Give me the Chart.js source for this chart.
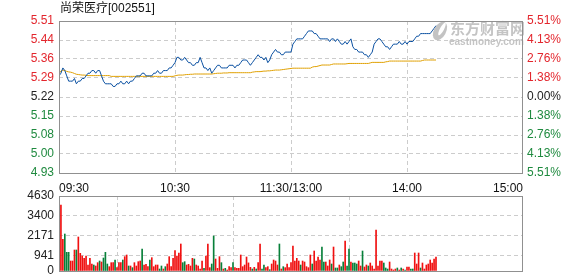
<!DOCTYPE html>
<html lang="zh">
<head>
<meta charset="UTF-8">
<title>尚荣医疗 分时</title>
<script src="https://cdn.jsdelivr.net/npm/chart.js"></script>
<style>
    html, body { margin: 0; padding: 0; background: #fff; overflow: hidden; }
    #wrap { position: relative; width: 578px; height: 276px; }
    #priceChart { position: absolute; left: 0; top: 0; }
    #volChart { position: absolute; left: 0; top: 186px; }
</style>
</head>
<body>
<div id="wrap">
    <canvas id="priceChart" width="578" height="194"></canvas>
    <canvas id="volChart" width="578" height="90"></canvas>
</div>
<script>
// ---- данные ----
const title = '尚荣医疗[002551]';
const prevClose = 5.22;

// ось времени: минуты от 09:30 (0..240)
const timeTicks = [0, 60, 120, 180, 240];
const timeLabels = ['09:30', '10:30', '11:30/13:00', '14:00', '15:00'];

// уровни сетки цены в % от закрытия и подписи (снизу вверх)
const pctLevels = [-5.51, -4.13, -2.76, -1.38, 0, 1.38, 2.76, 4.13, 5.51];
const priceLabels = ['4.93', '5.00', '5.08', '5.15', '5.22', '5.29', '5.36', '5.44', '5.51'];
const pctLabels = ['5.51%', '4.13%', '2.76%', '1.38%', '0.00%', '1.38%', '2.76%', '4.13%', '5.51%'];

// объём: сетка и подписи
const volTicks = [0, 941, 2171, 3400, 4630];
const volLabels = ['0', '941', '2171', '3400', '4630'];

// цена по минутам (0 = 09:30)
const prices = [
    5.30,5.31,5.33,5.32,5.30,5.28,5.28,5.28,5.29,5.27,
    5.28,5.28,5.29,5.29,5.30,5.31,5.31,5.32,5.32,5.31,
    5.32,5.32,5.30,5.28,5.27,5.27,5.27,5.27,5.26,5.26,
    5.27,5.27,5.28,5.27,5.27,5.28,5.27,5.28,5.28,5.29,
    5.30,5.30,5.30,5.31,5.31,5.30,5.30,5.30,5.30,5.31,
    5.31,5.32,5.31,5.31,5.32,5.32,5.32,5.33,5.33,5.34,
    5.35,5.37,5.37,5.36,5.36,5.37,5.36,5.35,5.35,5.34,
    5.34,5.35,5.35,5.37,5.35,5.33,5.33,5.32,5.33,5.31,
    5.32,5.33,5.34,5.34,5.33,5.33,5.33,5.33,5.34,5.34,
    5.34,5.33,5.34,5.34,5.35,5.36,5.36,5.36,5.35,5.34,
    5.35,5.36,5.37,5.38,5.37,5.37,5.36,5.37,5.35,5.36,
    5.38,5.39,5.40,5.39,5.39,5.38,5.38,5.39,5.39,5.39,
    5.39,5.42,5.43,5.44,5.44,5.44,5.44,5.45,5.46,5.47,
    5.47,5.47,5.46,5.46,5.45,5.44,5.44,5.44,5.44,5.44,
    5.43,5.44,5.44,5.43,5.44,5.43,5.42,5.42,5.43,5.42,
    5.43,5.44,5.41,5.40,5.40,5.39,5.39,5.39,5.38,5.38,
    5.37,5.38,5.39,5.42,5.43,5.44,5.44,5.43,5.42,5.41,
    5.41,5.40,5.41,5.42,5.42,5.42,5.43,5.42,5.42,5.43,
    5.42,5.43,5.43,5.43,5.44,5.45,5.45,5.46,5.46,5.46,
    5.46,5.46,5.46,5.47,5.48,5.49
];

// средняя цена по минутам
const avgPrices = [
    5.310,5.318,5.322,5.320,5.317,5.315,5.314,5.312,5.309,5.306,
    5.305,5.304,5.303,5.303,5.302,5.301,5.301,5.301,5.301,5.301,
    5.301,5.301,5.301,5.301,5.301,5.301,5.301,5.298,5.298,5.298,
    5.298,5.298,5.298,5.298,5.298,5.298,5.298,5.298,5.298,5.298,
    5.298,5.298,5.298,5.298,5.298,5.298,5.298,5.298,5.298,5.298,
    5.298,5.298,5.298,5.298,5.298,5.298,5.298,5.298,5.298,5.298,
    5.300,5.302,5.303,5.303,5.303,5.304,5.305,5.305,5.306,5.306,
    5.307,5.307,5.307,5.307,5.307,5.307,5.307,5.307,5.307,5.307,
    5.308,5.309,5.310,5.310,5.310,5.311,5.311,5.311,5.312,5.312,
    5.312,5.312,5.312,5.312,5.312,5.312,5.312,5.312,5.312,5.312,
    5.314,5.315,5.316,5.316,5.316,5.317,5.318,5.318,5.319,5.319,
    5.320,5.321,5.322,5.322,5.322,5.323,5.324,5.325,5.326,5.327,
    5.328,5.329,5.329,5.329,5.329,5.329,5.329,5.329,5.329,5.329,
    5.329,5.333,5.335,5.335,5.337,5.339,5.341,5.341,5.341,5.341,
    5.341,5.343,5.345,5.345,5.345,5.345,5.345,5.345,5.345,5.346,
    5.347,5.347,5.347,5.347,5.347,5.347,5.347,5.347,5.347,5.347,
    5.347,5.349,5.351,5.351,5.351,5.351,5.351,5.351,5.351,5.353,
    5.354,5.356,5.356,5.356,5.356,5.356,5.356,5.356,5.356,5.356,
    5.356,5.356,5.356,5.356,5.356,5.356,5.356,5.356,5.358,5.360,
    5.360,5.360,5.360,5.360,5.360,5.360
];

// объём по минутам, начиная с 1-й минуты
const volumes = [
    4074,1955,2284,1152,1152,617,617,1296,1296,2099,
    1090,926,782,926,370,782,432,370,309,514,
    617,556,802,1152,432,267,514,514,679,206,
    514,514,679,885,988,309,309,206,514,309,
    576,617,1358,370,411,267,679,823,267,370,
    370,123,309,123,267,432,885,267,782,1255,
    926,1111,1667,514,576,370,411,309,782,741,
    370,309,123,617,164,926,1667,206,432,2160,
    741,164,885,514,123,164,62,267,206,514,
    206,164,164,988,267,370,864,500,226,123,
    226,123,514,1667,123,370,206,267,82,432,
    679,617,370,1667,123,267,206,432,206,514,
    1543,617,782,617,370,617,556,267,206,988,
    432,1234,617,864,679,1481,556,556,309,679,
    432,1481,185,185,370,267,556,1852,309,1358,
    556,494,494,432,617,309,1234,247,370,309,
    494,309,123,2531,309,617,617,494,185,123,
    556,123,62,123,185,62,185,123,62,247,
    247,123,123,1111,432,1111,185,494,123,370,
    432,679,494,741,864
];

// r = рост, g = падение
const volDir = (
    'rrgggrrrgr' + 'rrrrrrrgrr' + 'grgggrrrgr' + 'rrgrrgrgrr' +
    'rrgrrrgrrr' + 'rggrgrrrrr' + 'rrrggrrrrg' + 'rrrrgrrrgg' +
    'rrrgrgrrrg' + 'rrrrrrrrrg' + 'rgrrggrrgr' + 'rrrgrgrrrr' +
    'rrrrgrrrrr' + 'grrrrggrrr' + 'grggrggrgg' + 'rgggrrgrrg' +
    'rrrrrrrggg' + 'rrrrgrgrgr' + 'rggrrrgrrr' + 'rrrrr'
).split('');

// ---- оформление ----
const FONT = '"Liberation Sans", "Noto Sans CJK SC", Arial, sans-serif';
Chart.defaults.font.family = FONT;
Chart.defaults.font.size = 12;

const LABEL_RED = '#e3262d';
const LABEL_GREEN = '#1f8a3f';
const LABEL_DARK = '#222';
const GRID = '#cccccc';
const FRAME = '#909090';

const priceTickVals = pctLevels.map(p => prevClose * (1 + p / 100));
const yMin = priceTickVals[0];
const yMax = priceTickVals[priceTickVals.length - 1];
const mid = pctLevels.indexOf(0);

function levelColor(i) {
    if (i === mid) return LABEL_DARK;
    return i > mid ? LABEL_RED : LABEL_GREEN;
}

// сетка без крайних линий (их рисует рамка)
function innerGrid(count) {
    return c => (c.index === 0 || c.index === count - 1) ? 'rgba(0,0,0,0)' : GRID;
}

// рамка вокруг области графика
const framePlugin = {
    id: 'frame',
    afterDraw(chart) {
        const a = chart.chartArea;
        const ctx = chart.ctx;
        ctx.save();
        ctx.strokeStyle = FRAME;
        ctx.lineWidth = 1;
        ctx.strokeRect(Math.round(a.left) + 0.5, Math.round(a.top) + 0.5,
            Math.round(a.right - a.left) - 1, Math.round(a.bottom - a.top));
        ctx.restore();
    }
};

// заголовок и водяной знак
const headerPlugin = {
    id: 'header',
    afterDatasetsDraw(chart) {
        const ctx = chart.ctx;
        const a = chart.chartArea;
        ctx.save();
        ctx.fillStyle = '#111';
        ctx.font = '12px ' + FONT;
        ctx.textBaseline = 'middle';
        ctx.textAlign = 'left';
        ctx.fillText(title, a.left + 1, 9);

        // логотип
        ctx.fillStyle = 'rgba(185,185,185,0.85)';
        ctx.beginPath();
        ctx.ellipse(440, 31, 6, 10, 0.5, 0, Math.PI * 2);
        ctx.fill();
        ctx.fillStyle = '#fff';
        ctx.beginPath();
        ctx.ellipse(442, 29, 2, 7, 0.5, 0, Math.PI * 2);
        ctx.fill();

        ctx.fillStyle = 'rgba(190,190,190,0.9)';
        ctx.font = 'bold 15px ' + FONT;
        ctx.fillText('东方财富网', 450, 30);
        ctx.font = 'bold 10px ' + FONT;
        ctx.fillText('eastmoney.com', 449, 42);
        ctx.restore();
    }
};

// ---- график цены ----
new Chart(document.getElementById('priceChart'), {
    type: 'line',
    data: {
        datasets: [
            {
                data: prices.map((p, i) => ({ x: i, y: p })),
                borderColor: '#0a50a1',
                borderWidth: 1,
                pointRadius: 0,
                tension: 0
            },
            {
                data: avgPrices.map((p, i) => ({ x: i, y: p })),
                borderColor: '#e0a000',
                borderWidth: 1,
                pointRadius: 0,
                tension: 0
            }
        ]
    },
    options: {
        responsive: false,
        animation: false,
        layout: { padding: { top: 21, left: 0, right: 0, bottom: 0 } },
        plugins: { legend: { display: false }, tooltip: { enabled: false } },
        scales: {
            x: {
                type: 'linear', min: 0, max: 240,
                afterBuildTicks: s => { s.ticks = timeTicks.map(v => ({ value: v })); },
                afterFit: s => { s.height = 21; s.paddingLeft = 0; s.paddingRight = 0; },
                grid: { color: innerGrid(timeTicks.length), drawTicks: false },
                border: { display: false, dash: [4, 3] },
                ticks: {
                    align: 'inner', padding: 8, color: '#111', autoSkip: false, maxRotation: 0,
                    callback: (v, i) => timeLabels[i]
                }
            },
            y: {
                position: 'left', min: yMin, max: yMax, bounds: 'data',
                afterBuildTicks: s => { s.ticks = priceTickVals.map(v => ({ value: v })); },
                afterFit: s => { s.width = 59; s.paddingTop = 0; s.paddingBottom = 0; },
                grid: { color: innerGrid(priceTickVals.length), drawTicks: false },
                border: { display: false, dash: [4, 3] },
                ticks: {
                    padding: 5, autoSkip: false,
                    color: c => levelColor(c.index),
                    callback: (v, i) => priceLabels[i]
                }
            },
            yr: {
                position: 'right', min: yMin, max: yMax, bounds: 'data',
                afterBuildTicks: s => { s.ticks = priceTickVals.map(v => ({ value: v })); },
                afterFit: s => { s.width = 55; s.paddingTop = 0; s.paddingBottom = 0; },
                grid: { display: false, drawTicks: false },
                border: { display: false },
                ticks: {
                    padding: 4, autoSkip: false,
                    color: c => levelColor(c.index),
                    callback: (v, i) => pctLabels[i]
                }
            }
        }
    },
    plugins: [framePlugin, headerPlugin]
});

// ---- график объёма ----
new Chart(document.getElementById('volChart'), {
    type: 'bar',
    data: {
        datasets: [{
            data: volumes.map((v, i) => ({ x: i + 1, y: v })),
            backgroundColor: volDir.map(d => d === 'r' ? '#f01010' : '#08803a'),
            barThickness: 1,
            grouped: false
        }]
    },
    options: {
        responsive: false,
        animation: false,
        layout: { padding: { top: 10, left: 0, right: 55, bottom: 0 } },
        plugins: { legend: { display: false }, tooltip: { enabled: false } },
        scales: {
            x: {
                type: 'linear', min: 0, max: 240, offset: false,
                afterBuildTicks: s => { s.ticks = timeTicks.map(v => ({ value: v })); },
                afterFit: s => { s.height = 5; s.paddingLeft = 0; s.paddingRight = 0; },
                grid: { color: innerGrid(timeTicks.length), drawTicks: false },
                border: { display: false, dash: [4, 3] },
                ticks: { display: false }
            },
            y: {
                min: 0, max: 4630, bounds: 'data',
                afterBuildTicks: s => { s.ticks = volTicks.map(v => ({ value: v })); },
                afterFit: s => { s.width = 59; s.paddingTop = 0; s.paddingBottom = 0; },
                grid: { color: innerGrid(volTicks.length), drawTicks: false },
                border: { display: false, dash: [4, 3] },
                ticks: {
                    padding: 5, autoSkip: false, color: LABEL_DARK,
                    callback: (v, i) => volLabels[i]
                }
            }
        }
    },
    plugins: [framePlugin]
});
</script>
</body>
</html>
